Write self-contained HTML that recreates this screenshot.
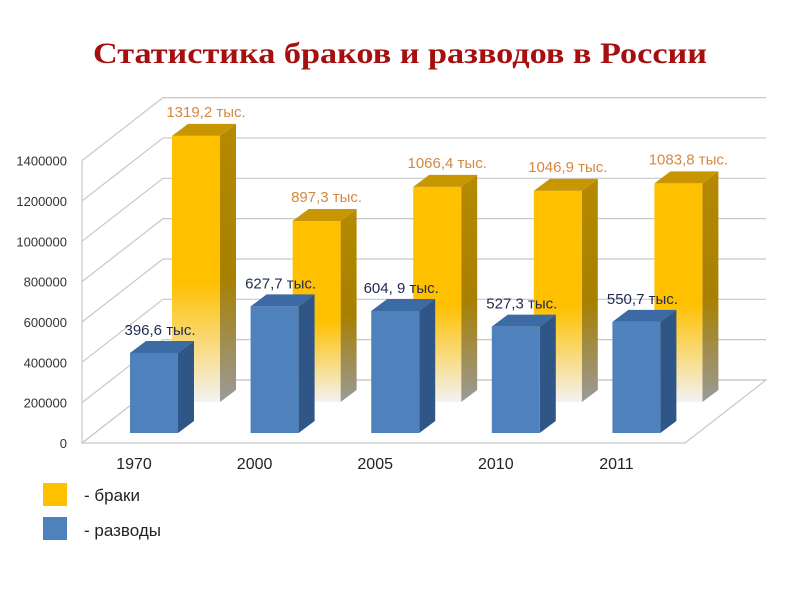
<!DOCTYPE html>
<html><head><meta charset="utf-8"><style>
html,body{margin:0;padding:0;background:#fff;}
svg{display:block;font-family:"Liberation Sans","DejaVu Sans",sans-serif;}
</style></head><body>
<svg id="chart" width="800" height="600" viewBox="0 0 800 600">
<defs>
<linearGradient id="yf" x1="0" y1="0" x2="0" y2="1" gradientUnits="objectBoundingBox">
<stop offset="0" stop-color="#ffc000"/><stop offset="0.55" stop-color="#ffc000"/><stop offset="1" stop-color="#f2f2f2"/></linearGradient>
<linearGradient id="ys" x1="0" y1="0" x2="0" y2="1">
<stop offset="0" stop-color="#b58a00"/><stop offset="0.55" stop-color="#a88000"/><stop offset="1" stop-color="#9a9a9a"/></linearGradient>
</defs>
<text x="400" y="63" text-anchor="middle" font-family="Liberation Serif, serif" font-weight="bold" font-size="30" fill="#a50f0f" textLength="614" lengthAdjust="spacingAndGlyphs">Статистика браков и разводов в России</text>
<g id="grid"></g>
<g id="bars"></g>
<g id="labels"></g>
<g>
<rect x="43" y="483" width="24" height="23" fill="#ffc000"/>
<text x="84" y="501" font-size="17" fill="#222">- браки</text>
<rect x="43" y="517" width="24" height="23" fill="#4f81bd"/>
<text x="84" y="536" font-size="17" fill="#222">- разводы</text>
</g>
</svg>
<script>
const categories = ["1970","2000","2005","2010","2011"];
const marriages = [1319.2, 897.3, 1066.4, 1046.9, 1083.8];
const divorces = [396.6, 627.7, 604.9, 527.3, 550.7];
const marriageLabels = ["1319,2 тыс.","897,3 тыс.","1066,4 тыс.","1046,9 тыс.","1083,8 тыс."];
const divorceLabels = ["396,6 тыс.","627,7 тыс.","604, 9 тыс.","527,3 тыс.","550,7 тыс."];
const yTicks = [0,200000,400000,600000,800000,1000000,1200000,1400000];

const NS="http://www.w3.org/2000/svg";
const SC = 0.2017; // px per thousand
const yFront = v => 443 - v/1000*SC;
const xCat = i => 130 + i*120.6;
function mk(tag, attrs, parent){const e=document.createElementNS(NS,tag);for(const k in attrs)e.setAttribute(k,attrs[k]);parent.appendChild(e);return e;}
const grid=document.getElementById('grid'), bars=document.getElementById('bars'), labels=document.getElementById('labels');
const DX=81, DY=-63;
// floor
const floor = mk('polygon',{points:`82,443 685,443 766,380 163,380`,fill:'none',stroke:'#c8c8c8','stroke-width':1.2},grid);


yTicks.forEach((t,k)=>{
  const y=yFront(t);
  const d=mk('line',{x1:82,y1:y,x2:82+DX,y2:y+DY,stroke:'#c8c8c8','stroke-width':1.2},grid);
  
  
  const b=mk('line',{x1:163,y1:y+DY,x2:766,y2:y+DY,stroke:'#c8c8c8','stroke-width':1.2},grid);
  
  
  const tl=mk('text',{x:67,y:y+5,'text-anchor':'end','font-size':13,fill:'#333'},grid);
  tl.textContent=String(t);
  
  
});
const ax=mk('line',{x1:82,y1:yFront(0),x2:82,y2:yFront(1400000),stroke:'#c8c8c8','stroke-width':1.2},grid);



function bar(x, base, val, w, front, side, top, name){
  const h=val*SC, y=base-h, d=16, dy=12;
  const g=mk('g',{},bars);
  
  
  mk('polygon',{points:`${x+w},${y} ${x+w+d},${y-dy} ${x+w+d},${base-dy} ${x+w},${base}`,fill:side},g);
  mk('polygon',{points:`${x},${y} ${x+d},${y-dy} ${x+w+d},${y-dy} ${x+w},${y}`,fill:top},g);
  mk('rect',{x:x,y:y,width:w,height:h,fill:front},g);
  return y;
}
const W=48;
categories.forEach((c,i)=>{
  const xm=xCat(i)+42;
  const ty=bar(xm,402,marriages[i],W,'url(#yf)','url(#ys)','#c79600','bar-marriages-'+c);
  const ml=mk('text',{x:xm+W/2+10,y:ty-19,'text-anchor':'middle','font-size':15,fill:'#d4893e'},labels);
  ml.textContent=marriageLabels[i];
  
  
});
categories.forEach((c,i)=>{
  const xb=xCat(i);
  const ty=bar(xb,433,divorces[i],W,'#4f81bd','#2f5687','#3c6aa4','bar-divorces-'+c);
  const dl=mk('text',{x:xb+W/2+6,y:ty-18,'text-anchor':'middle','font-size':15,fill:'#1f2a4d'},labels);
  dl.textContent=divorceLabels[i];
  
  
  const cl=mk('text',{x:xb+4,y:469,'text-anchor':'middle','font-size':16,fill:'#222'},labels);
  cl.textContent=c;
  
  
});
</script>
</body></html>
